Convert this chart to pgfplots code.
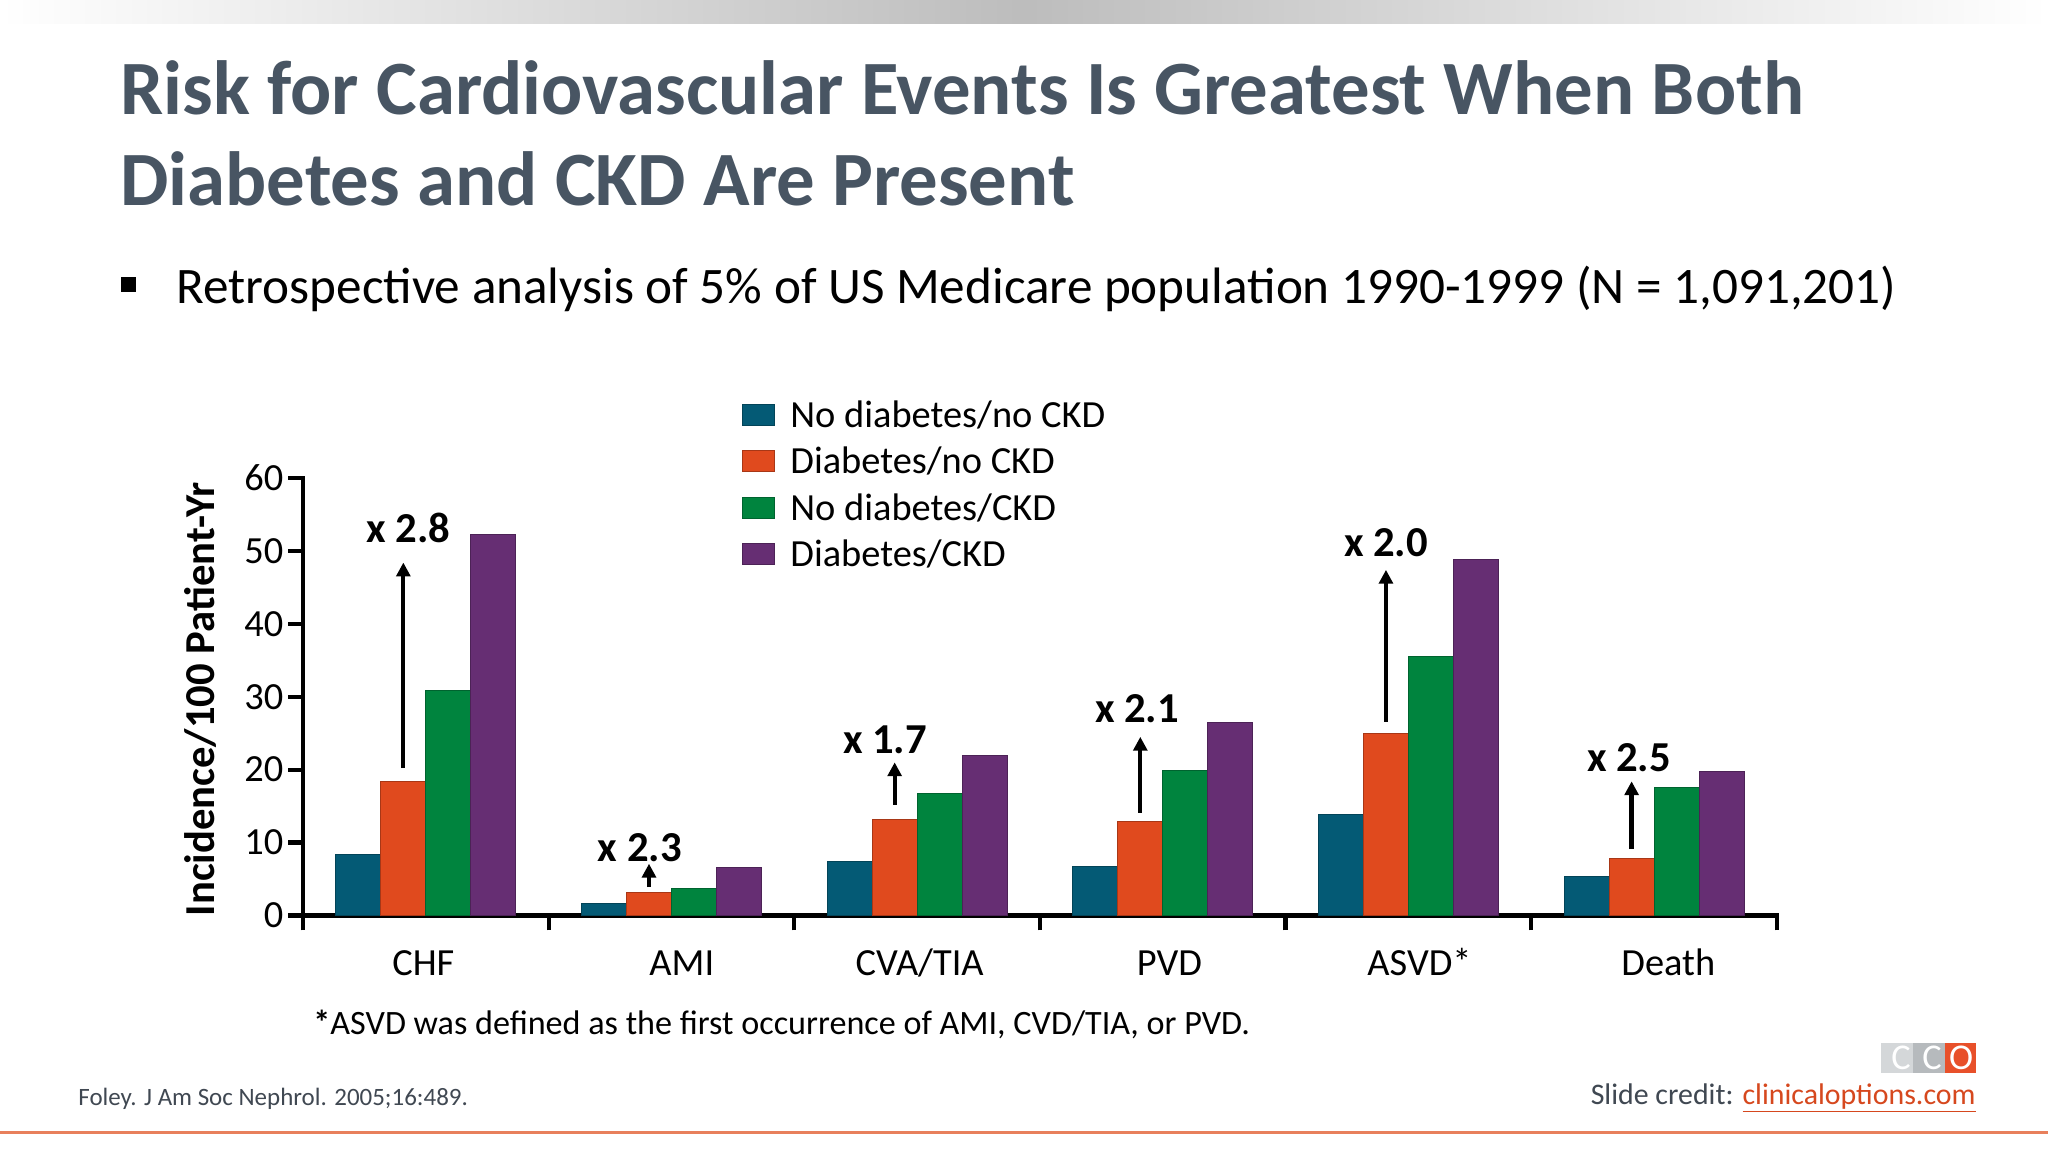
\documentclass[border=0pt]{standalone}
\usepackage{pgfplots}
\pgfplotsset{compat=1.18}
\usepackage{pgfplotstable}
\usepackage{fontspec}
\setmainfont{Carlito}
\usetikzlibrary{arrows.meta}

\definecolor{cBlue}{RGB}{4,90,117}
\definecolor{cOrange}{RGB}{224,74,30}
\definecolor{cGreen}{RGB}{0,132,62}
\definecolor{cPurple}{RGB}{102,46,115}
\definecolor{titlec}{RGB}{72,85,99}
\definecolor{srcgray}{RGB}{64,72,82}
\definecolor{linkorange}{RGB}{214,72,30}
\definecolor{lineorange}{RGB}{232,128,92}
\definecolor{logoA}{RGB}{212,215,217}
\definecolor{logoB}{RGB}{182,186,189}
\definecolor{logoC}{RGB}{232,80,42}

\pgfplotstableread{
x a b c d
0 8.4 18.4 30.8 52.2
1 1.6 3.2 3.7 6.6
2 7.4 13.2 16.7 21.9
3 6.7 12.9 19.9 26.5
4 13.9 25.0 35.5 48.8
5 5.4 7.8 17.6 19.8
}\rates

\begin{document}
\begin{tikzpicture}
\begin{scope}[x=0.46875pt,y=-0.46875pt]
  \fill[white] (0,0) rectangle (2048,1152);
  \useasboundingbox (0,0) rectangle (2048,1152);
  \shade[left color=white, right color=white, middle color=black!26] (0,0) rectangle (2048,24);
  % title
  \node[anchor=base west, inner sep=0pt, text=titlec, font=\fontsize{36}{40}\selectfont\bfseries] at (120,115) {Risk for Cardiovascular Events Is Greatest When Both};
  \node[anchor=base west, inner sep=0pt, text=titlec, font=\fontsize{36}{40}\selectfont\bfseries] at (120,206) {Diabetes and CKD Are Present};
  % bullet
  \fill[black] (121,277) rectangle (136,292);
  \node[anchor=base west, inner sep=0pt, font=\fontsize{24}{28}\selectfont] at (176,304) {Retrospective analysis of 5\% of US Medicare population 1990-1999 (N = 1,091,201)};
  % legend
  \foreach \yc/\col/\txt in {415/cBlue/{No diabetes/no CKD}, 461/cOrange/{Diabetes/no CKD}, 508/cGreen/{No diabetes/CKD}, 554/cPurple/{Diabetes/CKD}}{
    \filldraw[fill=\col, draw=\col!75!black, line width=0.4pt] (742,\yc-10.5) rectangle (774,\yc+10.5);
    \node[anchor=base west, inner sep=0pt, font=\fontsize{18}{21}\selectfont] at (790,\yc+12.5) {\txt};
  }
  % footnote
  \node[anchor=base west, inner sep=0pt, font=\fontsize{16}{19}\selectfont] at (313,1034) {\textbf{*}ASVD was defined as the first occurrence of AMI, CVD/TIA, or PVD.};
  % source
  \node[anchor=base west, inner sep=0pt, text=srcgray, font=\fontsize{11.7}{14}\selectfont] at (78,1105) {Foley. J Am Soc Nephrol. 2005;16:489.};
  \node[anchor=base east, inner sep=0pt, text=srcgray, font=\fontsize{14}{17}\selectfont] at (1976,1104) {Slide credit: \textcolor{linkorange}{\underline{clinicaloptions.com}}};
  % logo
  \fill[logoA] (1881,1043) rectangle (1913,1073);
  \fill[logoB] (1913,1043) rectangle (1945,1073);
  \fill[logoC] (1945,1043) rectangle (1976,1073);
  \node[text=white, font=\fontsize{17}{19}\selectfont, inner sep=0pt] at (1901,1058) {C};
  \node[text=white, font=\fontsize{17}{19}\selectfont, inner sep=0pt] at (1932,1058) {C};
  \node[text=white, font=\fontsize{17}{19}\selectfont, inner sep=0pt] at (1961,1058) {O};
  % bottom line
  \draw[lineorange, line width=1.4pt] (0,1132) -- (2048,1132);
\end{scope}

\begin{axis}[
  at={({303*0.46875pt},{-915.5*0.46875pt})}, anchor=south west,
  scale only axis, width=690.9pt, height=205.1pt,
  xmin=-0.5, xmax=5.5, ymin=0, ymax=60,
  axis lines=left,
  axis line style={-, line width=2pt, black, line cap=rect},
  tick align=outside,
  major tick length=7pt,
  tick style={line width=2pt, black},
  ytick={0,10,...,60},
  xtick={-0.5,0.5,1.5,2.5,3.5,4.5,5.5},
  xticklabels={},
  extra x ticks={-0.01,1.042,2.01,3.027,4.045,5.058},
  extra x tick labels={CHF,AMI,CVA/TIA,PVD,ASVD*,Death},
  extra x tick style={major tick length=0pt, tick style={draw=none}},
  /pgf/number format/assume math mode=true,
  ticklabel style={font=\fontsize{18}{21}\selectfont},
  yticklabel style={inner sep=2pt},
  xticklabel style={anchor=base, yshift=-28pt},
  ylabel={Incidence/100 Patient-Yr},
  ylabel style={at={(axis description cs:-0.0699,0.494)}, anchor=center, font=\fontsize{20}{24}\selectfont\bfseries},
  clip=false,
]
\addplot[ybar, bar width=0.183, bar shift=-0.2745, fill=cBlue, draw=cBlue!75!black, line width=0.4pt] table[x=x,y=a] {\rates};
\addplot[ybar, bar width=0.183, bar shift=-0.0915, fill=cOrange, draw=cOrange!75!black, line width=0.4pt] table[x=x,y=b] {\rates};
\addplot[ybar, bar width=0.183, bar shift=0.0915, fill=cGreen, draw=cGreen!75!black, line width=0.4pt] table[x=x,y=c] {\rates};
\addplot[ybar, bar width=0.183, bar shift=0.2745, fill=cPurple, draw=cPurple!75!black, line width=0.4pt] table[x=x,y=d] {\rates};

\foreach \ax/\yA/\yB/\lx/\ly/\lt in {
  -0.0915/20.2/48.4/-0.070/53.2/2.8,
  0.9085/3.9/7.1/0.871/9.3/2.3,
  1.9085/15.2/21.0/1.869/24.1/1.7,
  2.9085/14.1/24.5/2.895/28.4/2.1,
  3.9085/26.6/47.4/3.9085/51.1/2.0,
  4.9085/9.1/18.4/4.898/21.7/2.5}{
  \edef\temp{\noexpand\draw[line width=2pt, -{Triangle[width=6.5pt,length=6.5pt]}] (axis cs:\ax,\yA) -- (axis cs:\ax,\yB);
    \noexpand\node[font=\noexpand\fontsize{20}{24}\noexpand\selectfont\noexpand\bfseries, inner sep=0pt] at (axis cs:\lx,\ly) {x \lt};}
  \temp
}
\end{axis}
\end{tikzpicture}
\end{document}
